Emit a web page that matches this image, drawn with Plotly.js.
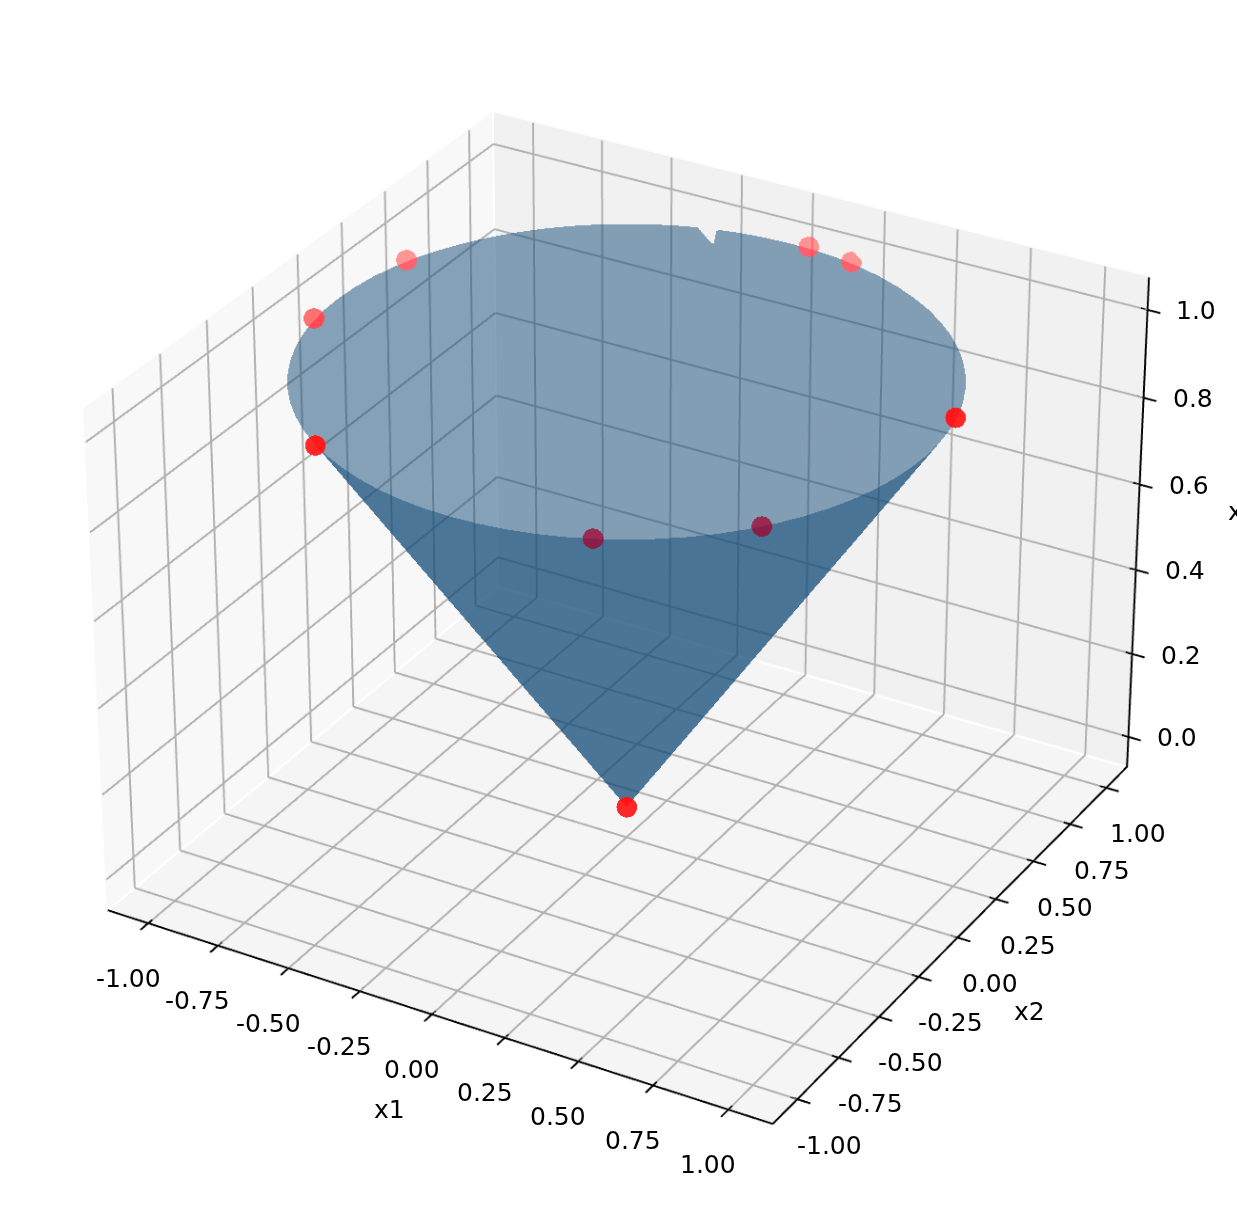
<!DOCTYPE html>
<html><head><meta charset="utf-8">
<script src="https://cdn.plot.ly/plotly-3.0.1.min.js"></script>
<style>html,body{margin:0;padding:0;background:#fff;overflow:hidden;width:1237px;height:1221px}#c{position:absolute}</style>
</head><body><div id="c"></div>
<script>
const pointsX1 = [-0.959,-0.995,-0.561,0.414,0.792,0.964,0.222,0.06,0];
const pointsX2 = [0.318,-0.152,-0.83,-0.907,-0.607,0.247,0.985,1.01,0];
const pointsX3 = [1,1,1,1,1,1,1,1,0];
const pointColors = ['rgba(255,0,0,0.4)','rgba(255,0,0,0.55)','rgba(255,0,0,0.85)','rgba(120,0,35,0.75)','rgba(120,0,35,0.75)','rgba(255,0,0,0.85)','rgba(255,0,0,0.4)','rgba(255,0,0,0.4)','rgba(255,0,0,0.85)'];
const rimX1 = [1,.996,.985,.966,.94,.906,.866,.819,.766,.707,.643,.574,.5,.423,.342,.259,.174,.087,0,-.087,-.174,-.259,-.342,-.423,-.5,-.574,-.643,-.707,-.766,-.819,-.866,-.906,-.94,-.966,-.985,-.996,-1,-.996,-.985,-.966,-.94,-.906,-.866,-.819,-.766,-.707,-.643,-.574,-.5,-.423,-.342,-.259,-.174,-.087,0,.087,.174,.259,.342,.423,.5,.574,.643,.707,.766,.819,.866,.906,.94,.966,.985,.996];
const rimX2 = [0,.087,.174,.259,.342,.423,.5,.574,.643,.707,.766,.819,.866,.906,.94,.966,.985,.996,1,.996,.985,.966,.94,.906,.866,.819,.766,.707,.643,.574,.5,.423,.342,.259,.174,.087,0,-.087,-.174,-.259,-.342,-.423,-.5,-.574,-.643,-.707,-.766,-.819,-.866,-.906,-.94,-.966,-.985,-.996,-1,-.996,-.985,-.966,-.94,-.906,-.866,-.819,-.766,-.707,-.643,-.574,-.5,-.423,-.342,-.259,-.174,-.087];
const coneLevels = [0,0.25,0.5,0.75,1];
const ticksX = [-1,-0.75,-0.5,-0.25,0,0.25,0.5,0.75,1];
const ticksY = [-1,-0.75,-0.5,-0.25,0,0.25,0.5,0.75,1];
const ticksZ = [0,0.2,0.4,0.6,0.8,1];
const labelsX = ['-1.00','-0.75','-0.50','-0.25','0.00','0.25','0.50','0.75','1.00'];
const labelsY = labelsX;
const labelsZ = ['0.0','0.2','0.4','0.6','0.8','1.0'];
const xLo=-1.146,xHi=1.146,yLo=-1.146,yHi=1.146,zLo=-0.073,zHi=1.073;

const W=5489,H=5418,offX=7.5,offY=-16;
const box=document.getElementById('c');
box.style.left=((1237-W)/2+offX)+'px';box.style.top=((1221-H)/2+offY)+'px';

const n=rimX1.length, mx=[],my=[],mz=[],mi=[],mj=[],mk=[];
coneLevels.forEach(l=>{rimX1.forEach((v,a)=>{mx.push(l*v);my.push(l*rimX2[a]);mz.push(l);});});
for(let r=0;r<coneLevels.length-1;r++){for(let a=0;a<n;a++){
  const p=r*n+a,q=r*n+(a+1)%n,s=(r+1)*n+a,t=(r+1)*n+(a+1)%n;
  if(r>0){mi.push(p);mj.push(q);mk.push(s);}
  mi.push(q);mj.push(t);mk.push(s);}}
const surf = {type:'mesh3d',x:mx,y:my,z:mz,i:mi,j:mj,k:mk,
  showscale:false,opacity:0.5,color:'#124a78',flatshading:true,
  lighting:{ambient:1,diffuse:0,specular:0,roughness:1,fresnel:0},hoverinfo:'skip'};
const pts = {type:'scatter3d',mode:'markers',x:pointsX1,y:pointsX2,z:pointsX3,
  marker:{size:6.3,color:pointColors,opacity:0.99,line:{width:0}},hoverinfo:'skip'};

function pane(xs,ys,zs,color){return {type:'mesh3d',x:xs,y:ys,z:zs,i:[0,0],j:[1,2],k:[2,3],color:color,opacity:1,
  flatshading:true,lighting:{ambient:1,diffuse:0,specular:0,roughness:1,fresnel:0},hoverinfo:'skip',showscale:false};}
const e=0.004;
const paneFloor=pane([xLo,xHi,xHi,xLo],[yLo,yLo,yHi,yHi],[zLo-e,zLo-e,zLo-e,zLo-e],'#f5f5f5');
const paneLeft=pane([xLo-e,xLo-e,xLo-e,xLo-e],[yLo,yHi,yHi,yLo],[zLo,zLo,zHi,zHi],'#f8f8f8');
const paneBack=pane([xLo,xHi,xHi,xLo],[yHi+e,yHi+e,yHi+e,yHi+e],[zLo,zLo,zHi,zHi],'#f1f1f1');

function lines(segs,color,width){return segs.map(s=>({type:'scatter3d',mode:'lines',x:[s[0],s[3]],y:[s[1],s[4]],z:[s[2],s[5]],line:{color,width},hoverinfo:'skip'}));}
const gridSegs=[];
ticksX.forEach(t=>{gridSegs.push([t,yLo,zLo,t,yHi,zLo],[t,yHi,zLo,t,yHi,zHi]);});
ticksY.forEach(t=>{gridSegs.push([xLo,t,zLo,xHi,t,zLo],[xLo,t,zLo,xLo,t,zHi]);});
ticksZ.forEach(t=>{gridSegs.push([xLo,yLo,t,xLo,yHi,t],[xLo,yHi,t,xHi,yHi,t]);});
const axisSegs=[[xLo,yLo,zLo,xHi,yLo,zLo],[xHi,yLo,zLo,xHi,yHi,zLo],[xHi,yHi,zLo,xHi,yHi,zHi]];
ticksX.forEach(t=>axisSegs.push([t,yLo-0.043,zLo,t,yLo+0.022,zLo]));
ticksY.forEach(t=>axisSegs.push([xHi+0.043,t,zLo,xHi-0.022,t,zLo]));
ticksZ.forEach(t=>axisSegs.push([xHi+0.043,yHi,t,xHi-0.022,yHi,t]));

const font={family:'DejaVu Sans',size:25,color:'#000'};
const anns=[];
function lab(x,y,z,text,dx,dy,xanchor){anns.push({x,y,z,text,showarrow:false,xshift:dx,yshift:-dy,xanchor:xanchor||'center',yanchor:'middle',font});}
ticksX.forEach((t,i)=>lab(t,yLo,zLo,labelsX[i],-20,55));
ticksY.forEach((t,i)=>lab(xHi,t,zLo,labelsY[i],32,46));
ticksZ.forEach((t,i)=>lab(xHi,yHi,t,labelsZ[i],49,1));
lab(0,yLo,zLo,'x1',-42,95);
lab(xHi,0,zLo,'x2',72,74);
lab(xHi,yHi,0.5,'x3',88,-16,'left');

const hidden={visible:false,showgrid:false,zeroline:false,showticklabels:false,showspikes:false,showbackground:false,showline:false};
const layout={width:W,height:H,margin:{l:0,r:0,t:0,b:0},paper_bgcolor:'#fff',showlegend:false,
 scene:{domain:{x:[0,1],y:[0,1]},
  xaxis:Object.assign({range:[-1.215,1.215]},hidden),
  yaxis:Object.assign({range:[-1.215,1.215]},hidden),
  zaxis:Object.assign({range:[-0.1075,1.1075]},hidden),
  aspectmode:'manual',aspectratio:{x:1,y:1,z:0.76},annotations:anns,
  camera:{projection:{type:'perspective'},center:{x:0,y:0,z:0},up:{x:0,y:0,z:1},
    eye:{x:3.55,y:-6.15,z:4.1}}}};
Plotly.newPlot('c',[paneFloor,paneLeft,paneBack].concat(lines(gridSegs,'#b0b0b0',2),lines(axisSegs,'#000000',2),[surf,pts]),layout,{displayModeBar:false});
</script></body></html>
